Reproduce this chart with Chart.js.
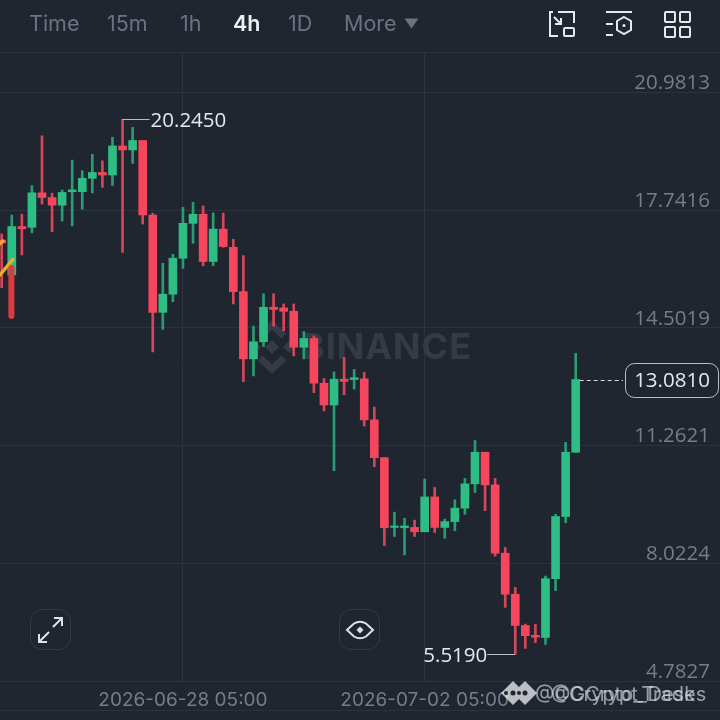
<!DOCTYPE html>
<html lang="en">
<head>
<meta charset="UTF-8">
<title>4h candles</title>
<script src="https://cdn.jsdelivr.net/npm/chart.js@4"></script>
<style>
    html, body { margin: 0; padding: 0; background: #1f2630; }
    #wrap { position: relative; width: 720px; height: 720px; overflow: hidden; font-family: 'Inter', sans-serif; }
    canvas { position: absolute; left: 0; top: 0; }
    .tab { position: absolute; top: 9px; font-size: 21.5px; line-height: 28px; color: #6c7380; }
    .tab.active { color: #f0f1f3; font-weight: 600; }
    .icon { position: absolute; }
    .btn { position: absolute; top: 609px; width: 41px; height: 41px; border: 1.5px solid #343b46; border-radius: 12px; box-sizing: border-box; }
    .tag { position: absolute; top: 680px; font-size: 20px; line-height: 28px; white-space: nowrap; color: rgba(226,229,233,0.62); }
</style>
</head>
<body>
<div id="wrap">
    <canvas id="candles" width="720" height="720"></canvas>

    <span class="tab" style="left:29px">Time</span>
    <span class="tab" style="left:107px">15m</span>
    <span class="tab" style="left:180px">1h</span>
    <span class="tab active" style="left:233px">4h</span>
    <span class="tab" style="left:288px">1D</span>
    <span class="tab" style="left:344px">More</span>
    <svg class="icon" style="left:404px;top:18px" width="15" height="11"><path d="M0.5 0.5H14.5L7.5 10.5Z" fill="#6c7380"/></svg>

    <svg class="icon" style="left:546px;top:8px" width="32" height="32" fill="none" stroke="#e6e8eb" stroke-width="2">
        <path d="M12 4H28V15M12 28H4V4H7M8 9L15 16M15 10V16H9"/>
        <rect x="18" y="20" width="10" height="8" rx="1"/>
    </svg>
    <svg class="icon" style="left:604px;top:8px" width="32" height="32" fill="none" stroke="#e6e8eb" stroke-width="2">
        <path d="M2 4H28M2 16H9M2 27H9"/>
        <path d="M20 9L27 13V22L20 26L13 22V13Z"/>
        <circle cx="20" cy="17.5" r="1.5" fill="#e6e8eb" stroke="none"/>
    </svg>
    <svg class="icon" style="left:662px;top:8px" width="32" height="32" fill="none" stroke="#e6e8eb" stroke-width="2">
        <rect x="3" y="4" width="10" height="10" rx="1"/><rect x="18" y="4" width="10" height="10" rx="1"/>
        <rect x="3" y="19" width="10" height="10" rx="1"/><rect x="18" y="19" width="10" height="10" rx="1"/>
    </svg>

    <div class="btn" style="left:30px"></div>
    <svg class="icon" style="left:36px;top:615px" width="30" height="30" fill="none" stroke="#dfe2e6" stroke-width="2">
        <path d="M17 12L26 3M18 3H26V11M13 17L3 27M3 19V27H11"/>
    </svg>
    <div class="btn" style="left:339px"></div>
    <svg class="icon" style="left:345px;top:616px" width="30" height="28" fill="none" stroke="#dfe2e6" stroke-width="2">
        <path d="M2 14L9 7.5Q15 4 21 7.5L28 14L21 20.5Q15 24 9 20.5Z"/>
        <path d="M15 10.5L18.5 14L15 17.5L11.5 14Z" fill="#dfe2e6" stroke="none"/>
    </svg>

    <svg class="icon" style="left:498px;top:678px" width="42" height="30" fill="rgba(232,234,237,0.78)">
        <path d="M3 15L15 3L21 9L27 3L39 15L27 27L21 21L15 27Z"/>
        <circle cx="8" cy="15" r="2" fill="#1f2630"/><circle cx="15" cy="15" r="2.5" fill="#1f2630"/>
        <circle cx="21" cy="15" r="2" fill="#1f2630"/><circle cx="27" cy="15" r="2.5" fill="#1f2630"/>
    </svg>
    <span class="tag" style="left:535px">@CCrypto_Trades</span>
    <span class="tag" style="left:551px">@GCrypt_Desk</span>
</div>

<script>
// index 18 and 42 are the two labelled 4h candles
const tickIndexes = [18, 42];
const tickDates = ['2026-06-28 05:00', '2026-07-02 05:00'];
const priceTicks = [20.9813, 17.7416, 14.5019, 11.2621, 8.0224, 4.7827];

const opens = [16.92, 15.96, 17.29, 17.27, 18.22, 18.09, 17.88, 18.25, 18.25, 18.62,
    18.78, 18.71, 19.51, 19.40, 19.66, 17.61, 14.93, 15.43, 16.42, 17.38,
    17.63, 16.33, 17.22, 16.72, 15.50, 13.65, 14.12, 15.07, 15.05, 14.96,
    13.97, 14.21, 12.98, 12.38, 13.09, 13.08, 13.10, 11.97, 10.93, 9.01,
    9.00, 9.01, 8.89, 9.85, 9.01, 9.17, 9.54, 10.21, 11.08, 10.18,
    8.30, 7.17, 6.31, 6.04, 5.98, 7.60, 9.31, 11.08];
const highs = [17.09, 17.61, 17.63, 18.42, 19.79, 18.21, 18.30, 19.12, 18.83, 19.28,
    19.10, 19.75, 20.245, 20.02, 19.66, 17.66, 16.28, 16.53, 17.82, 17.96,
    17.86, 17.67, 17.66, 16.94, 16.49, 14.55, 15.44, 15.44, 15.16, 15.16,
    14.40, 14.28, 13.11, 13.29, 13.69, 13.36, 13.28, 12.32, 10.93, 9.43,
    9.26, 9.21, 10.34, 10.11, 9.24, 9.77, 10.36, 11.40, 11.08, 10.36,
    8.46, 7.36, 6.35, 6.34, 7.67, 9.37, 11.35, 13.80];
const lows = [15.61, 15.90, 16.51, 17.12, 17.91, 17.15, 17.44, 17.31, 17.77, 18.22,
    18.37, 18.42, 16.58, 19.03, 17.36, 13.84, 14.46, 15.22, 16.14, 16.83,
    16.21, 16.21, 16.72, 15.16, 13.02, 13.18, 13.99, 14.55, 14.42, 13.73,
    13.65, 12.72, 12.22, 10.57, 12.66, 12.82, 11.80, 10.68, 8.51, 8.76,
    8.25, 8.76, 8.89, 8.87, 8.71, 8.92, 9.37, 9.97, 9.47, 8.22,
    6.81, 5.519, 5.68, 5.84, 5.79, 7.27, 9.14, 11.07];
const closes = [16.84, 17.29, 17.23, 18.22, 18.09, 17.88, 18.23, 18.30, 18.62, 18.78,
    18.71, 19.51, 19.40, 19.66, 17.61, 14.93, 15.43, 16.42, 17.38, 17.63,
    16.33, 17.22, 16.74, 15.50, 13.65, 14.12, 15.07, 15.01, 14.96, 13.97,
    14.21, 12.98, 12.38, 13.09, 13.03, 13.13, 11.97, 10.93, 9.00, 9.05,
    9.05, 8.89, 9.85, 9.01, 9.17, 9.54, 10.21, 11.08, 10.18, 8.30,
    7.17, 6.31, 6.03, 5.99, 7.60, 9.31, 11.08, 13.081];

// hand drawn marks on the left edge of the screenshot
const redStrokeX = [0.96, 0.96];
const redStrokeY = [16.15, 14.83];
const yellowStrokeX = [-0.17, 1.09];
const yellowStrokeY = [15.96, 16.38];
const yellowTipX = [-0.17, 0.1];
const yellowTipY = [16.82, 16.89];

const highLabel = '20.2450';
const lowLabel = '5.5190';
const lastLabel = '13.0810';

const BG = '#1f2630';
const GRID = '#2c333e';
const AXIS_TEXT = '#767d89';
const UP = '#2ebd85';
const DOWN = '#f6465d';
const UP_WICK = '#2a9c73';
const DOWN_WICK = '#d8455a';
const FONT = 'Inter, sans-serif';
const NUM_FONT = '"Open Sans", sans-serif'; // even digit widths, like the original prices

const candleColors = closes.map((c, i) => (c >= opens[i] ? UP : DOWN));
const wickColors = closes.map((c, i) => (c >= opens[i] ? UP_WICK : DOWN_WICK));
const bodies = closes.map((c, i) => ({ x: i, y: [opens[i], c] }));
const wicks = closes.map((c, i) => ({ x: i, y: [lows[i], highs[i]] }));

function toPoints(xs, ys) {
    return xs.map((x, i) => ({ x: x, y: ys[i] }));
}

function strokeDataset(xs, ys, color, width) {
    return {
        type: 'line',
        data: toPoints(xs, ys),
        borderColor: color,
        borderWidth: width,
        borderCapStyle: 'round',
        pointRadius: 0,
        order: 0
    };
}

// BINANCE mark behind the candles
const watermark = {
    id: 'watermark',
    beforeDatasetsDraw(chart) {
        const ctx = chart.ctx;
        ctx.save();
        ctx.fillStyle = '#343b45';
        ctx.font = '700 36px ' + FONT;
        ctx.textBaseline = 'middle';
        ctx.textAlign = 'right';
        ctx.letterSpacing = '1px';
        ctx.fillText('BINANCE', 472, 348);
        ctx.letterSpacing = '0px';

        const cx = 272, cy = 347;
        const diamond = (x, y, r) => {
            ctx.beginPath();
            ctx.moveTo(x, y - r);
            ctx.lineTo(x + r, y);
            ctx.lineTo(x, y + r);
            ctx.lineTo(x - r, y);
            ctx.closePath();
            ctx.fill();
        };
        diamond(cx, cy, 7);
        diamond(cx - 17, cy, 6);
        diamond(cx + 17, cy, 6);
        ctx.strokeStyle = '#343b45';
        ctx.lineWidth = 7;
        ctx.beginPath();
        ctx.moveTo(cx - 12, cy - 11);
        ctx.lineTo(cx, cy - 22);
        ctx.lineTo(cx + 12, cy - 11);
        ctx.moveTo(cx - 12, cy + 11);
        ctx.lineTo(cx, cy + 22);
        ctx.lineTo(cx + 12, cy + 11);
        ctx.stroke();
        ctx.restore();
    }
};

// high / low leaders, last price box, frame lines
const priceMarks = {
    id: 'priceMarks',
    afterDatasetsDraw(chart) {
        const ctx = chart.ctx;
        const xs = chart.scales.x;
        const ys = chart.scales.y;
        const hiIdx = highs.indexOf(Math.max(...highs));
        const loIdx = lows.indexOf(Math.min(...lows));
        const lastIdx = closes.length - 1;

        ctx.save();
        ctx.font = '20.5px ' + NUM_FONT;
        ctx.textBaseline = 'middle';
        ctx.strokeStyle = '#b9bdc4';
        ctx.fillStyle = '#e6e8eb';
        ctx.lineWidth = 1;

        const hiX = xs.getPixelForValue(hiIdx);
        const hiY = Math.round(ys.getPixelForValue(highs[hiIdx])) + 0.5;
        ctx.beginPath();
        ctx.moveTo(hiX, hiY);
        ctx.lineTo(hiX + 27, hiY);
        ctx.stroke();
        ctx.textAlign = 'left';
        ctx.fillText(highLabel, hiX + 28, hiY + 2);

        const loX = xs.getPixelForValue(loIdx);
        const loY = Math.round(ys.getPixelForValue(lows[loIdx])) + 0.5;
        ctx.beginPath();
        ctx.moveTo(loX, loY);
        ctx.lineTo(loX - 28, loY);
        ctx.stroke();
        ctx.textAlign = 'right';
        ctx.fillText(lowLabel, loX - 28, loY + 2);

        const lastX = xs.getPixelForValue(lastIdx);
        const lastY = Math.round(ys.getPixelForValue(closes[lastIdx])) + 0.5;
        ctx.strokeStyle = '#d5d8dc';
        ctx.setLineDash([4, 3]);
        ctx.beginPath();
        ctx.moveTo(lastX + 4, lastY);
        ctx.lineTo(623, lastY);
        ctx.stroke();
        ctx.setLineDash([]);

        ctx.fillStyle = BG;
        ctx.strokeStyle = '#b9bdc4';
        ctx.beginPath();
        ctx.roundRect(625.5, lastY - 17, 93, 34, 9);
        ctx.fill();
        ctx.stroke();
        ctx.fillStyle = '#e6e8eb';
        ctx.textAlign = 'center';
        ctx.fillText(lastLabel, 672, lastY + 1);

        ctx.strokeStyle = GRID;
        ctx.beginPath();
        ctx.moveTo(0, 52.5);
        ctx.lineTo(720, 52.5);
        ctx.moveTo(0, 710.5);
        ctx.lineTo(720, 710.5);
        ctx.stroke();
        ctx.restore();
    }
};

new Chart(document.getElementById('candles').getContext('2d'), {
    type: 'bar',
    data: {
        datasets: [
            { data: bodies, backgroundColor: candleColors, barThickness: 8, grouped: false, order: 1 },
            { data: wicks, backgroundColor: wickColors, barThickness: 2, grouped: false, order: 2 },
            strokeDataset(redStrokeX, redStrokeY, '#dc3a3f', 6),
            strokeDataset(yellowStrokeX, yellowStrokeY, '#e9ad2c', 3.5),
            strokeDataset(yellowTipX, yellowTipY, '#e9ad2c', 3.5)
        ]
    },
    plugins: [watermark, priceMarks],
    options: {
        responsive: false,
        animation: false,
        layout: { padding: { top: 52, left: 0, right: 0, bottom: 0 } },
        plugins: { legend: { display: false }, tooltip: { enabled: false } },
        scales: {
            x: {
                type: 'linear',
                offset: false,
                min: -0.17,
                max: 71.33,
                afterBuildTicks(axis) {
                    axis.ticks = tickIndexes.map(v => ({ value: v }));
                },
                afterFit(axis) {
                    axis.height = 39;
                },
                grid: { color: GRID, drawTicks: false, offset: false },
                border: { display: false },
                ticks: {
                    autoSkip: false,
                    maxRotation: 0,
                    padding: 8,
                    color: AXIS_TEXT,
                    font: { family: FONT, size: 19 },
                    callback: v => tickDates[tickIndexes.indexOf(v)]
                }
            },
            y: {
                position: 'right',
                min: 4.7827,
                max: 22.096,
                afterBuildTicks(axis) {
                    axis.ticks = priceTicks.map(v => ({ value: v }));
                },
                afterFit(axis) {
                    axis.width = 0; // labels sit inside the plot
                },
                grid: { color: GRID, drawTicks: false },
                border: { display: false },
                ticks: {
                    mirror: true,
                    padding: -10,
                    labelOffset: -9,
                    color: AXIS_TEXT,
                    font: { family: NUM_FONT, size: 20.5 },
                    callback: v => v.toFixed(4)
                }
            }
        }
    }
});
</script>
</body>
</html>
